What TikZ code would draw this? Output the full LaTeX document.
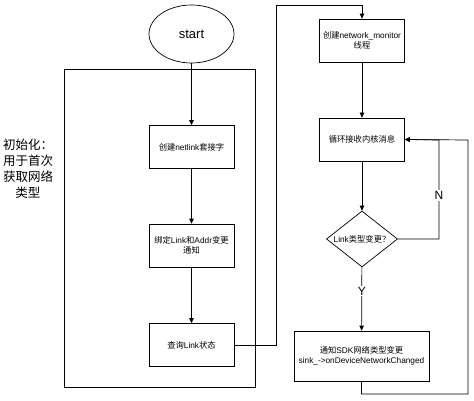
\documentclass[tikz,border=0pt]{standalone}
\usepackage{fontspec}
\setmainfont{Liberation Sans}
\newfontfamily\cjk{Noto Sans CJK SC}
\newcommand{\zh}[1]{{\cjk #1}}
\usetikzlibrary{shapes.geometric,arrows.meta}

\begin{document}
\begin{tikzpicture}[x=1pt,y=-1pt,line width=0.7pt,
    >={Triangle[length=5pt,width=4.5pt]},
    caja/.style={draw,minimum width=85pt,minimum height=43pt,align=center,
      font=\fontsize{8.3}{10.5}\selectfont},
    etiqueta/.style={fill=white,inner sep=1pt,font=\fontsize{12}{14}\selectfont}]
    \useasboundingbox (0,0) rectangle (474,401);

    % Inicio
    \node[draw,ellipse,minimum width=85pt,minimum height=58pt,
      font=\fontsize{13}{15}\selectfont] (start) at (191.5,34) {start};

    % Marco de inicializacion
    \draw (64,69) rectangle (255.5,387.5);
    \node[align=center,font=\cjk\fontsize{12.5}{16}\selectfont] (init) at (28,169)
      {初始化：\\用于首次\\获取网络\\类型};

    % Pasos de inicializacion
    \node[caja] (socket) at (191.5,147) {\zh{创建}netlink\zh{套接字}};
    \node[caja] (bind) at (191.5,245.5) {\zh{绑定}Link\zh{和}Addr\zh{变更}\\\zh{通知}};
    \node[caja] (query) at (191.5,345) {\zh{查询}Link\zh{状态}};

    % Hilo de monitoreo
    \node[caja] (thread) at (362,40.5) {\zh{创建}network\_monitor\\\zh{线程}};
    \node[caja] (loop) at (362,139.5) {\zh{循环接收内核消息}};
    \node[draw,diamond,aspect=1.27,inner sep=1pt,minimum width=71pt,minimum height=56pt,
      font=\fontsize{8.3}{10.5}\selectfont] (check) at (362,239) {Link\zh{类型变更？}};
    \node[caja,minimum width=135pt,minimum height=50pt] (notify) at (361.5,356)
      {\zh{通知}SDK\zh{网络类型变更}\\sink\_->onDeviceNetworkChanged};

    % Puntos de paso
    \coordinate (topright) at (276,5);
    \coordinate (nloop) at (439,140);
    \coordinate (bottomright) at (468,394);
    \coordinate (back) at (468,140);

    % Flechas
    \draw[->] (start) -- (socket);
    \draw[->] (socket) -- (bind);
    \draw[->] (bind) -- (query);
    \draw[->] (query.east) -| (topright) -| (thread.north);
    \draw[->] (thread) -- (loop);
    \draw[->] (loop) -- (check);
    \draw[->] (check) -- node[etiqueta,pos=0.38] {Y} (notify);
    \draw[->] (check.east) -| node[etiqueta,pos=0.72] {N} (nloop) -- (loop.east);
    \draw[->] (notify.south) |- (bottomright) -- (back) -- (loop.east);
\end{tikzpicture}
\end{document}
